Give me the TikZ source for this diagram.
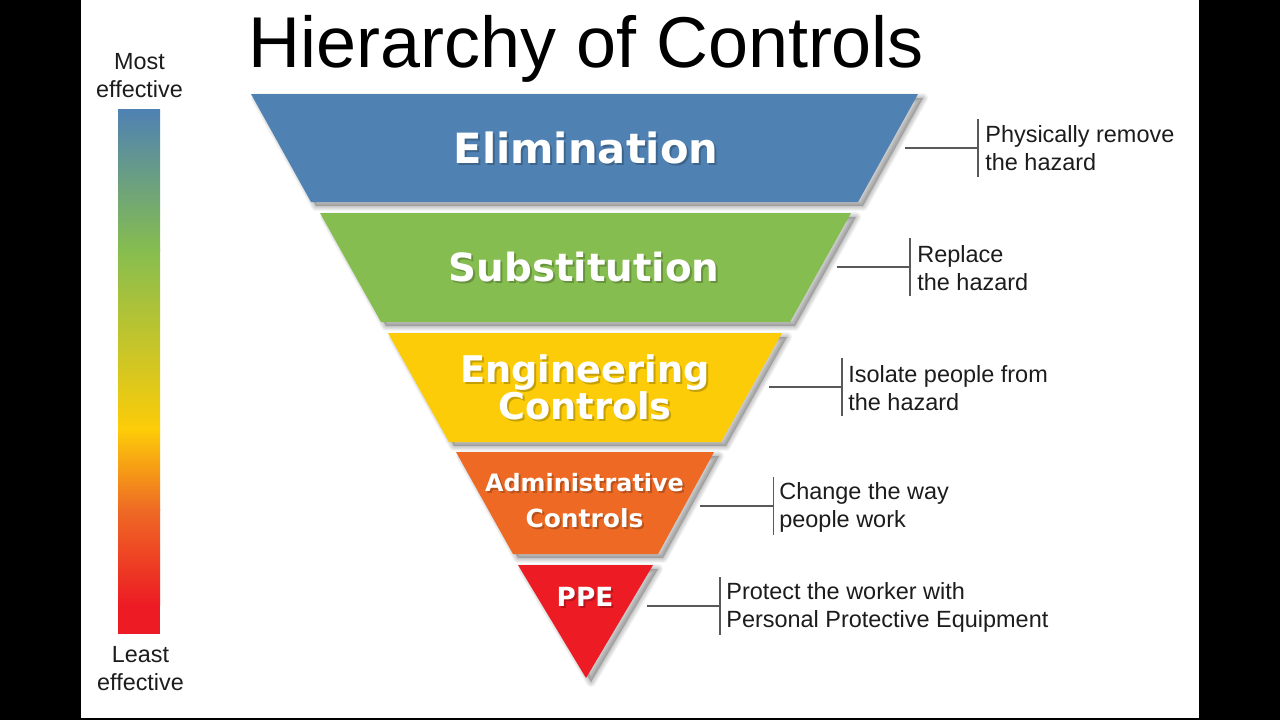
\documentclass[tikz,border=0pt]{standalone}
\usepackage{fontspec}
\setmainfont{Liberation Sans}
\newfontfamily\bandfont{DejaVu Sans}
\definecolor{elimblue}{HTML}{4F81B3}
\definecolor{substgreen}{HTML}{86BD50}
\definecolor{engyellow}{HTML}{FDCC08}
\definecolor{adminorange}{HTML}{EE6A24}
\definecolor{ppered}{HTML}{ED1C24}
\definecolor{labelgray}{HTML}{1C1C1C}
\newcommand{\softshadow}[1]{%
  \foreach \w in {10,8,6,4,2}{\path [fill=black,draw=black,fill opacity=0.045,draw opacity=0.045,line width=\w*0.567pt,line join=round,shift={(5,-4)}] #1;}}
\newcommand{\bandtext}[5]{%
  \node (#1Glow) [bandlabel,text=black,opacity=0.22,font=#4] at (#2+2,#3-2) {#5};
  \node (#1) [bandlabel,font=#4] at (#2,#3) {#5};}
\tikzset{
  sidelabel/.style={anchor=west,align=left,inner sep=0pt,text=labelgray,font=\fontsize{13.35}{15.9}\selectfont},
  endlabel/.style={align=center,inner sep=0pt,text=labelgray,font=\fontsize{13.3}{15.9}\selectfont},
  bandlabel/.style={align=center,inner sep=0pt,text=white},
  tickline/.style={draw=black!65,line width=0.6pt}
}
\begin{document}
\begin{tikzpicture}[x=0.02cm,y=0.02cm]
\useasboundingbox (0,0) rectangle (1280,-720);
\fill [black] (0,0) rectangle (1280,-720);
\fill [white] (81,0) rectangle (1199,-718);
\node (title) [anchor=base west,inner sep=0pt,font=\fontsize{40.95}{44}\selectfont] at (248,-67) {Hierarchy of Controls};
% effectiveness scale
\node (mostLabel) [endlabel] at (139.5,-76) {Most\\effective};
\node (leastLabel) [endlabel] at (140.5,-669) {Least\\effective};
\shade [top color=elimblue,bottom color=substgreen] (118,-109) rectangle (160,-250);
\shade [top color=substgreen,bottom color=engyellow] (118,-249.5) rectangle (160,-430);
\shade [top color=engyellow,bottom color=adminorange] (118,-429.5) rectangle (160,-510);
\shade [top color=adminorange,bottom color=ppered] (118,-509.5) rectangle (160,-605);
\fill [ppered] (118,-604.5) rectangle (160,-634);
% bands
\softshadow{(251,-94) -- (918,-94) -- (858,-202) -- (311,-202) -- cycle}
\fill [elimblue] (251,-94) -- (918,-94) -- (858,-202) -- (311,-202) -- cycle;
\softshadow{(320,-213) -- (851,-213) -- (790,-322) -- (381,-322) -- cycle}
\fill [substgreen] (320,-213) -- (851,-213) -- (790,-322) -- (381,-322) -- cycle;
\softshadow{(388,-333) -- (782,-333) -- (721,-442) -- (449,-442) -- cycle}
\fill [engyellow] (388,-333) -- (782,-333) -- (721,-442) -- (449,-442) -- cycle;
\softshadow{(456,-452) -- (714,-452) -- (658,-554) -- (513,-554) -- cycle}
\fill [adminorange] (456,-452) -- (714,-452) -- (658,-554) -- (513,-554) -- cycle;
\softshadow{(518,-565) -- (653,-565) -- (586,-678) -- cycle}
\fill [ppered] (518,-565) -- (653,-565) -- (586,-678) -- cycle;
\bandtext{elimination}{586}{-148}{\bandfont\bfseries\fontsize{23.7}{26}\selectfont}{Elimination}
\bandtext{substitution}{584}{-267}{\bandfont\bfseries\fontsize{22.1}{26}\selectfont}{Substitution}
\bandtext{engineering}{585}{-387}{\bandfont\bfseries\fontsize{20.9}{21}\selectfont}{Engineering\\Controls}
\bandtext{administrative}{584.5}{-500.5}{\bandfont\bfseries\fontsize{13.6}{20.4}\selectfont}{Administrative\\\fontsize{14.2}{20.4}\selectfont Controls}
\bandtext{ppe}{585}{-597}{\bandfont\bfseries\fontsize{15}{18}\selectfont}{PPE}
% side notes
\node (removeNote) [sidelabel] at (985,-148) {Physically remove\\the hazard};
\node (replaceNote) [sidelabel] at (917,-268) {Replace\\the hazard};
\node (isolateNote) [sidelabel] at (848,-388) {Isolate people from\\the hazard};
\node (changeNote) [sidelabel] at (779,-507) {Change the way\\people work};
\node (protectNote) [sidelabel] at (726,-607) {Protect the worker with\\Personal Protective Equipment};
\coordinate (removeTick) at (905,-148);
\coordinate (removeJoin) at (978,-148);
\coordinate (replaceTick) at (837,-267);
\coordinate (replaceJoin) at (910,-267);
\coordinate (isolateTick) at (769,-387);
\coordinate (isolateJoin) at (842,-387);
\coordinate (changeTick) at (700,-506);
\coordinate (changeJoin) at (773.5,-506);
\coordinate (protectTick) at (647,-606);
\coordinate (protectJoin) at (720,-606);
\draw [tickline] (removeTick) -- (removeJoin);
\draw [tickline] (removeJoin) +(0,29) -- +(0,-29);
\draw [tickline] (replaceTick) -- (replaceJoin);
\draw [tickline] (replaceJoin) +(0,29) -- +(0,-29);
\draw [tickline] (isolateTick) -- (isolateJoin);
\draw [tickline] (isolateJoin) +(0,29) -- +(0,-29);
\draw [tickline] (changeTick) -- (changeJoin);
\draw [tickline] (changeJoin) +(0,29) -- +(0,-29);
\draw [tickline] (protectTick) -- (protectJoin);
\draw [tickline] (protectJoin) +(0,29) -- +(0,-29);
\end{tikzpicture}
\end{document}
